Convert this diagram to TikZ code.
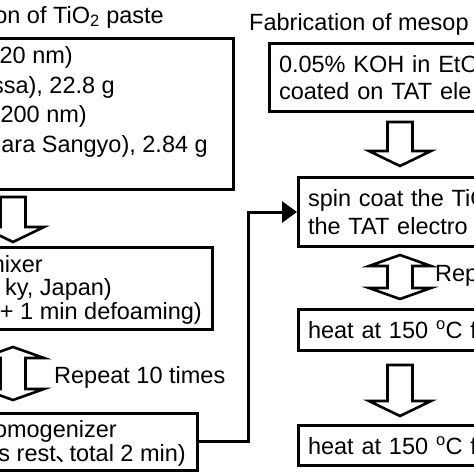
\documentclass[tikz,border=0pt]{standalone}
\usepackage{fontspec}
\setmainfont{Liberation Sans}
\newfontfamily\cjk{Noto Sans CJK JP}
\usetikzlibrary{calc}
\usetikzlibrary{arrows.meta}
\tikzset{
  box/.style={draw, line width=3pt, inner sep=0pt, outer sep=0pt},
  inbox/.style={draw, line width=3pt, align=left, inner xsep=9.5pt, inner ysep=0pt, anchor=north west},
  txt/.style={inner sep=0pt, anchor=base east},
  lbl/.style={inner sep=0pt, anchor=base west},
  hollow/.style={draw, line width=2.6pt, fill=white, line join=miter},
  link/.style={line width=3pt, -{Triangle[length=15pt,width=21pt]}}
}
\newcommand{\hollowdown}[2]{%
\draw[hollow] let \p1=#1, \p2=#2 in
  (\x1-12.5pt,\y1) -- (\x1-12.5pt,\y2+15pt) -- (\x1-31pt,\y2+15pt) -- (\x2,\y2)
  -- (\x1+31pt,\y2+15pt) -- (\x1+12.5pt,\y2+15pt) -- (\x1+12.5pt,\y1) -- cycle;}
\newcommand{\hollowboth}[2]{%
\draw[hollow] let \p1=#1, \p2=#2 in
  (\x1,\y1) -- (\x1+31pt,\y1-11pt) -- (\x1+12.5pt,\y1-11pt) -- (\x1+12.5pt,\y2+11pt)
  -- (\x1+31pt,\y2+11pt) -- (\x2,\y2) -- (\x1-31pt,\y2+11pt) -- (\x1-12.5pt,\y2+11pt)
  -- (\x1-12.5pt,\y1-11pt) -- (\x1-31pt,\y1-11pt) -- cycle;}
\begin{document}
\begin{tikzpicture}[x=1pt, y=-1pt, font=\fontsize{23.5}{27.5}\selectfont]
\useasboundingbox (0,0) rectangle (474,474);
\clip (0,0) rectangle (474,474);
% left column: the paste
\node[txt] (tpaste) at (164,23) {on of TiO\textsubscript{2} paste};
\node[box, anchor=north east, minimum width=440, minimum height=151] (mat) at (233,38) {};
\node[txt] (mat1) at (73,63) {20 nm)};
\node[txt] (mat2) at (115,93) {ssa), 22.8 g};
\node[txt] (mat3) at (87,122) {200 nm)};
\node[txt] (mat4) at (208,152) {ara Sangyo), 2.84 g};
\node[box, anchor=north east, minimum width=398, minimum height=82] (mix) at (212,247) {};
\node[txt] (mix1) at (43,272) {mixer};
\node[txt] (mix2) at (112,295) {ky, Japan)};
\node[txt] (mix3) at (202,319) {+ 1 min defoaming)};
\node[box, anchor=north east, minimum width=368, minimum height=57] (hom) at (197,413) {};
\node[txt] (hom1) at (117,437) {omogenizer};
\node[txt] (hom2) at (186,461) {s rest{\cjk 、}\kern-0.42em total 2 min)};
\node[lbl] (rep1) at (54,383) {Repeat 10 times};
% right column: the layer
\node[lbl] (tmeso) at (249,30) {Fabrication of mesop};
\node[inbox, minimum height=68, text width=242] (koh) at (268,42) {0.05\% KOH in EtO\\coated on TAT ele};
\node[inbox, minimum height=69, text width=184] (spin) at (297,176) {spin coat the TiO\\the TAT electro};
\node[inbox, minimum height=41, text width=184] (heat1) at (297,308) {heat at 150 \textsuperscript{o}C f};
\node[inbox, minimum height=40, text width=184] (heat2) at (297,424) {heat at 150 \textsuperscript{o}C f};
\node[lbl] (rep2) at (435,281) {Rep};
% block arrows
\hollowdown{($(mat.south)+(0,8)$)}{($(mix.north)+(0,-5)$)}
\hollowboth{($(mix.south)+(0,18)$)}{($(hom.north)+(0,-13)$)}
\hollowdown{($(koh.south)+(0,9)$)}{($(spin.north)+(0,-10)$)}
\hollowboth{($(spin.south)+(0,7)$)}{($(heat1.north)+(0,-9)$)}
\hollowdown{($(heat1.south)+(0,13)$)}{($(heat2.north)+(0,-8)$)}
% link between the columns
\draw[link] (hom.east) -- ++(51,0) |- (spin.west);
\end{tikzpicture}
\end{document}
